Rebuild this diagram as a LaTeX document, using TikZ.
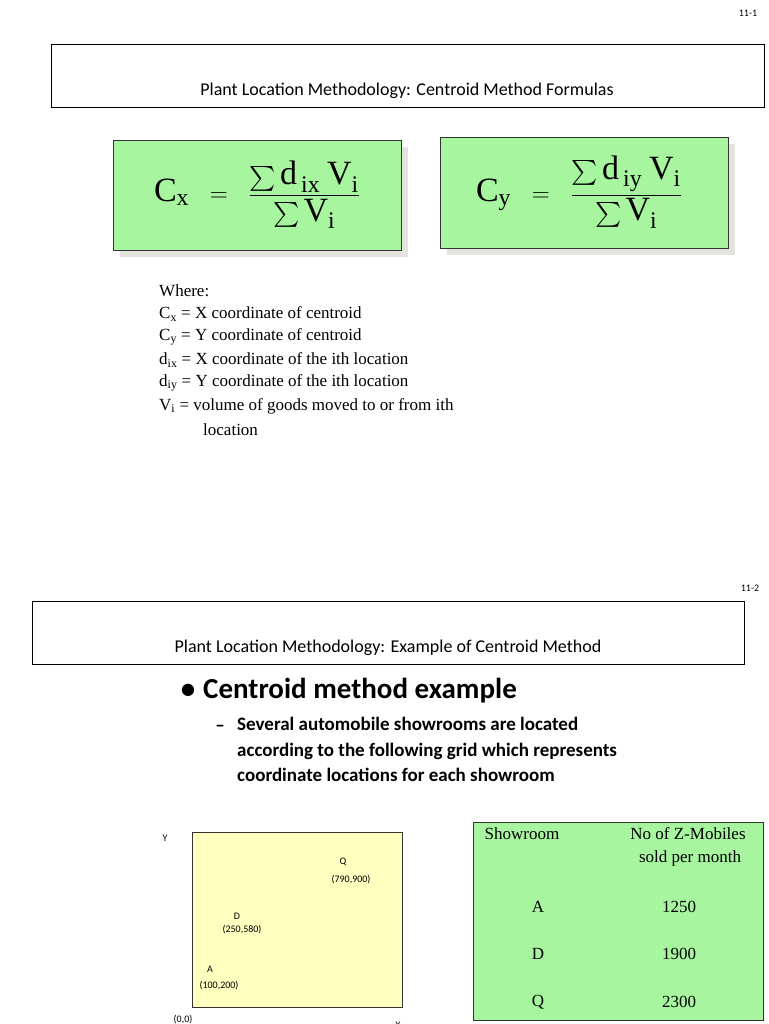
\documentclass[tikz,border=0pt]{standalone}
\usepackage{amsmath}
\usepackage{fontspec}
\setmainfont{Liberation Serif}
\newfontfamily\carl{Carlito}
\definecolor{lgreen}{HTML}{A8F5A0}
\definecolor{lyellow}{HTML}{FFFFC0}
\definecolor{shad}{HTML}{E4E2DC}
\begin{document}
\begin{tikzpicture}[x=1pt,y=-1pt,
  titlebox/.style={draw=black,line width=0.6pt},
  fbox/.style={draw=black!80,fill=lgreen,line width=0.8pt},
  wtxt/.style={anchor=west,inner sep=0,font=\fontsize{17}{17}\selectfont},
  small/.style={inner sep=0,font=\carl\fontsize{10}{10}\selectfont},
  tbl/.style={inner sep=0,font=\fontsize{17}{17}\selectfont}]
\useasboundingbox (0,0) rectangle (768,1024);
\fill[white] (0,0) rectangle (768,1024);
% slide 1
\node[small] (p1) at (748,13) {11-1};
\draw[titlebox] (51,44) rectangle (764,107);
\node[inner sep=0,font=\carl\fontsize{18}{18}\selectfont] (t1) at (407,91) {Plant Location Methodology: Centroid Method Formulas};
\fill[shad] (120,147) rectangle (408,257);
\draw[fbox] (113,140) rectangle (401,250);
\fill[shad] (447,144) rectangle (735,255);
\draw[fbox] (440,137) rectangle (728,248);
\node[inner sep=0,font=\fontsize{34}{34}\selectfont] (fx) at (257,195)
  {$\mathrm{C}_{\mathrm{x}}\;\;=\;\;\dfrac{\sum \mathrm{d}_{\,\mathrm{ix}}\;\mathrm{V}_{\mathrm{i}}}{\sum \mathrm{V}_{\mathrm{i}}}$};
\node[inner sep=0,font=\fontsize{34}{34}\selectfont] (fy) at (579,192)
  {$\mathrm{C}_{\mathrm{y}}\;\;=\;\;\dfrac{\sum \mathrm{d}_{\,\mathrm{iy}}\;\mathrm{V}_{\mathrm{i}}}{\sum \mathrm{V}_{\mathrm{i}}}$};
\node[wtxt] (w0) at (159,291) {Where:};
\node[wtxt] (w1) at (159,314) {C$_{\mathrm{x}}$ = X coordinate of centroid};
\node[wtxt] (w2) at (159,337) {C$_{\mathrm{y}}$ = Y coordinate of centroid};
\node[wtxt] (w3) at (159,360) {d$_{\mathrm{ix}}$ = X coordinate of the ith location};
\node[wtxt] (w4) at (159,383) {d$_{\mathrm{iy}}$ = Y coordinate of the ith location};
\node[wtxt] (w5) at (159,406) {V$_{\mathrm{i}}$ = volume of goods moved to or from ith};
\node[wtxt] (w6) at (203,430) {location};
% slide 2
\node[small] (p2) at (750,588) {11-2};
\draw[titlebox] (32,601) rectangle (744,664);
\node[inner sep=0,font=\carl\fontsize{18}{18}\selectfont] (t2) at (388,648) {Plant Location Methodology: Example of Centroid Method};
\node[inner sep=0,font=\carl\bfseries\fontsize{29}{29}\selectfont] (b1) at (188,691) {•};
\node[anchor=west,inner sep=0,font=\carl\bfseries\fontsize{29}{29}\selectfont] (b1t) at (203,691) {Centroid method example};
\node[inner sep=0,font=\carl\bfseries\fontsize{19}{19}\selectfont] (d1) at (220,728) {–};
\node[anchor=north west,inner sep=0,align=left,font=\carl\bfseries\fontsize{19}{25.5}\selectfont] (d1t) at (237,717)
  {Several automobile showrooms are located\\according to the following grid which represents\\coordinate locations for each showroom};
\node[small] (ylab) at (165,838) {Y};
\fill[lyellow,draw=black!80,line width=0.8pt] (192,832) rectangle (402,1007);
\node[small] (q) at (343,862) {Q};
\node[small] (qc) at (351,880) {(790,900)};
\node[small] (d) at (237,916) {D};
\node[small] (dc) at (242,930) {(250,580)};
\node[small] (a) at (210,969) {A};
\node[small] (ac) at (219,986) {(100,200)};
\node[small] (o) at (183,1020) {(0,0)};
\node[small] (xlab) at (398,1025) {X};
\draw[fbox] (473,822) rectangle (763,1020);
\node[tbl] (h1) at (522,834) {Showroom};
\node[tbl] (h2) at (688,834) {No of Z-Mobiles};
\node[tbl] (h3) at (690,858) {sold per month};
\node[tbl] (ra) at (538,907) {A};
\node[tbl] (va) at (679,907) {1250};
\node[tbl] (rd) at (538,954) {D};
\node[tbl] (vd) at (679,954) {1900};
\node[tbl] (rq) at (538,1002) {Q};
\node[tbl] (vq) at (679,1002) {2300};
\end{tikzpicture}
\end{document}
